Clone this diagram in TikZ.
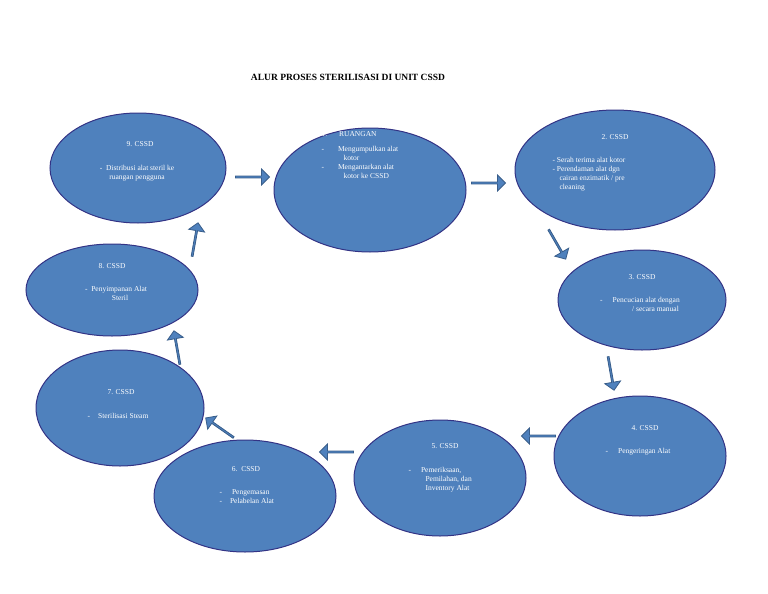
\documentclass[tikz,border=0pt]{standalone}
\usepackage{fontspec}
\setmainfont{Liberation Serif}
\usetikzlibrary{shapes.arrows}
\begin{document}
\begin{tikzpicture}[x=1pt,y=-1pt,
  ell/.style={ellipse,draw=blue!40!black!80,line width=1pt,fill={rgb,255:red,79;green,129;blue,189},inner sep=0pt},
  txt/.style={text=white,font=\fontsize{7.5}{9}\selectfont,align=left},
  blk/.style={single arrow,draw={rgb,255:red,56;green,93;blue,138},line width=0.8pt,fill={rgb,255:red,79;green,129;blue,189},minimum height=34pt,minimum width=16pt,single arrow head extend=3pt,inner sep=0pt}]
\useasboundingbox (0,0) rectangle (768,594);
\node[font=\bfseries\fontsize{9.5}{11}\selectfont] (title) at (348,77) {ALUR PROSES STERILISASI DI UNIT CSSD};
\usetikzlibrary{shapes.geometric}
\node[ell,minimum width=192pt,minimum height=124pt] (e1) at (370,190) {};
\node[ell,minimum width=200pt,minimum height=120pt] (e2) at (615,170) {};
\node[ell,minimum width=168pt,minimum height=100pt] (e3) at (642,300) {};
\node[ell,minimum width=172pt,minimum height=120pt] (e4) at (640,456) {};
\node[ell,minimum width=172pt,minimum height=116pt] (e5) at (440,478) {};
\node[ell,minimum width=182pt,minimum height=112pt] (e6) at (245,496) {};
\node[ell,minimum width=168pt,minimum height=116pt] (e7) at (120,408) {};
\node[ell,minimum width=172pt,minimum height=92pt] (e8) at (112,290) {};
\node[ell,minimum width=176pt,minimum height=110pt] (e9) at (138,168) {};
% texts
\node[txt,anchor=north west] (t1) at (318,128) {1.\hspace{12pt}RUANGAN\\[6pt]
-\hspace{14pt}Mengumpulkan alat\\ \hspace{22pt}kotor\\
-\hspace{14pt}Mengantarkan alat\\ \hspace{22pt}kotor ke CSSD};
\node[txt,anchor=north] (t2a) at (615,131) {2. CSSD};
\node[txt,anchor=north west] (t2) at (549,154) {-\ Serah terima alat kotor\\
-\ Perendaman alat dgn\\ \hspace{7pt}cairan enzimatik / pre\\ \hspace{7pt}cleaning};
\node[txt,anchor=north] (t3a) at (642,271) {3. CSSD};
\node[txt,anchor=north] (t3) at (640,294) {-\hspace{10pt}Pencucian alat dengan\\ \hspace{32pt}/ secara manual};
\node[txt,anchor=north] (t4a) at (645,422) {4. CSSD};
\node[txt,anchor=north] (t4) at (638,445) {-\hspace{10pt}Pengeringan Alat};
\node[txt,anchor=north] (t5a) at (445,440) {5. CSSD};
\node[txt,anchor=north west] (t5) at (405,464) {-\hspace{10pt}Pemeriksaan,\\ \hspace{17pt}Pemilahan, dan\\ \hspace{17pt}Inventory Alat};
\node[txt,anchor=north] (t6a) at (246,463) {6.\ \ CSSD};
\node[txt,anchor=north west] (t6) at (216,486) {-\hspace{10pt}Pengemasan\\ -\hspace{8pt}Pelabelan Alat};
\node[txt,anchor=north] (t7a) at (121,386) {7. CSSD};
\node[txt,anchor=north] (t7) at (118,410) {-\hspace{8pt}Sterilisasi Steam};
\node[txt,anchor=north] (t8a) at (112,260) {8. CSSD};
\node[txt,anchor=north,align=center] (t8) at (116,283) {-\ \ Penyimpanan Alat\\ \hspace{8pt}Steril};
\node[txt,anchor=north] (t9a) at (140,138) {9. CSSD};
\node[txt,anchor=north,align=center] (t9) at (137,162) {-\ \ Distribusi alat steril ke\\ ruangan pengguna};
% block arrows
\node[blk] (a91) at (252,177) {};
\node[blk] (a12) at (488,183) {};
\node[blk,rotate=-60] (a23) at (557,244) {};
\node[blk,rotate=-80] (a34) at (611,373) {};
\node[blk,rotate=180] (a45) at (539,436) {};
\node[blk,rotate=180] (a56) at (337,452) {};
\node[blk,rotate=145] (a67) at (220,428) {};
\node[blk,rotate=100] (a78) at (177,348) {};
\node[blk,rotate=80] (a89) at (195,240) {};
\end{tikzpicture}
\end{document}
